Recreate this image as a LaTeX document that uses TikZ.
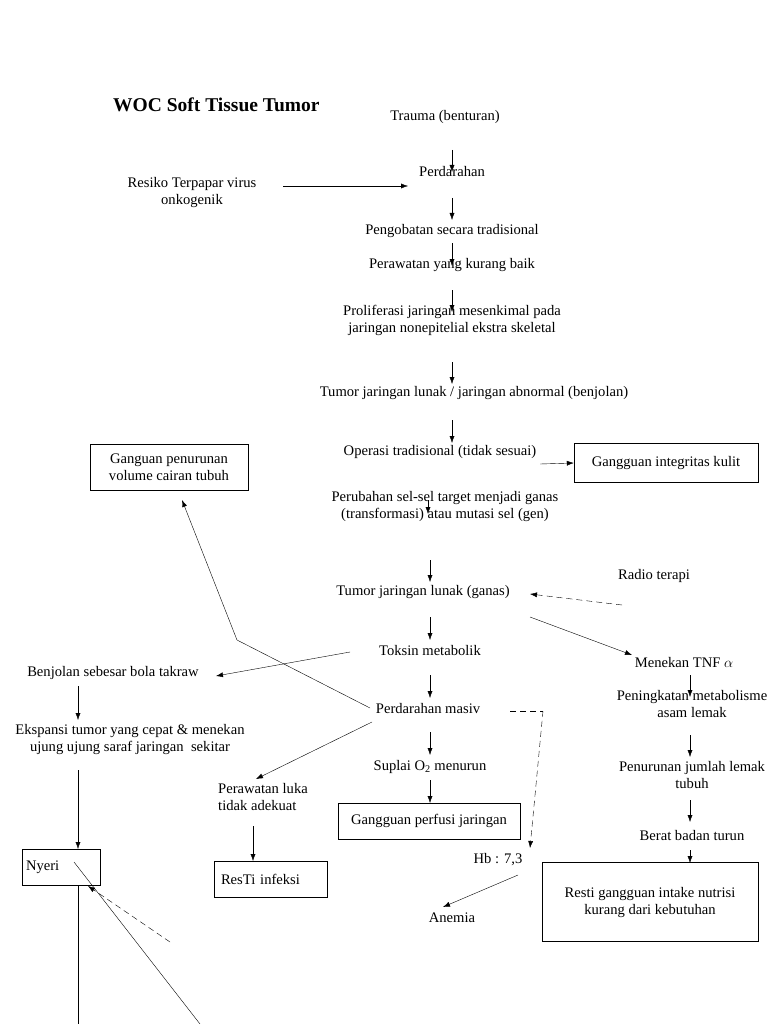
\documentclass[tikz,border=0pt]{standalone}
\usepackage{fontspec}
\setmainfont{Liberation Serif}
\usetikzlibrary{arrows.meta}
\begin{document}
\begin{tikzpicture}[x=1pt,y=-1pt,
  txt/.style={font=\fontsize{14.6}{17}\selectfont,align=center,inner sep=0pt},
  box/.style={draw,font=\fontsize{14.6}{17}\selectfont,align=center,inner sep=0pt},
  ar/.style={-{Latex[length=7pt,width=5pt]},thin},
  da/.style={-{Latex[length=7pt,width=5pt]},thin,dashed,dash pattern=on 6pt off 4pt}]
\useasboundingbox (0,0) rectangle (768,1024);
\node[txt,font=\fontsize{19.5}{22}\selectfont\bfseries,anchor=west] (title) at (113,105) {WOC Soft Tissue Tumor};
\node[txt] (trauma) at (445,117) {Trauma (benturan)};
\node[txt] (perd) at (452,172) {Perdarahan};
\node[txt] (resiko) at (192,193) {Resiko Terpapar virus\\onkogenik};
\node[txt] (pengob) at (452,231) {Pengobatan secara tradisional};
\node[txt] (peraw) at (452,265) {Perawatan yang kurang baik};
\node[txt] (prolif) at (452,320) {Proliferasi jaringan mesenkimal pada\\jaringan nonepitelial ekstra skeletal};
\node[txt] (tumor1) at (474,393) {Tumor jaringan lunak / jaringan abnormal (benjolan)};
\node[txt] (operasi) at (440,452) {Operasi tradisional (tidak sesuai)};
\node[box,minimum width=184,minimum height=39] (integ) at (666,463) {Gangguan integritas kulit};
\node[box,minimum width=158,minimum height=46] (cairan) at (169,467) {Ganguan penurunan\\volume cairan tubuh};
\node[txt] (perub) at (445,507) {Perubahan sel-sel target menjadi ganas\\(transformasi) atau mutasi sel (gen)};
\node[txt] (ganas) at (423,592) {Tumor jaringan lunak (ganas)};
\node[txt] (radio) at (654,576) {Radio terapi};
\node[txt] (toksin) at (430,650) {Toksin metabolik};
\node[txt] (tnf) at (684,662) {Menekan TNF $\alpha$};
\node[txt] (benj) at (113,673) {Benjolan sebesar bola takraw};
\node[txt] (masiv) at (428,708) {Perdarahan masiv};
\node[txt] (ekspansi) at (130,740) {Ekspansi tumor yang cepat \& menekan\\ujung ujung saraf jaringan\ \ sekitar};
\node[txt,align=left] (luka) at (263,797) {Perawatan luka\\tidak adekuat};
\node[txt] (suplai) at (430,767) {Suplai O\textsubscript{2} menurun};
\node[box,minimum width=182,minimum height=36] (perfusi) at (429,821) {Gangguan perfusi jaringan};
\node[box,minimum width=78,minimum height=36,text width=70,align=left] (nyeri) at (61,867) {Nyeri\vphantom{g}\\[10pt]};
\node[box,minimum width=113,minimum height=36,text width=100,align=left] (infeksi) at (271,879) {ResTi infeksi};
\node[txt] (hb) at (498,860) {Hb : 7,3};
\node[txt] (anemia) at (452,918) {Anemia};
\node[txt] (metab) at (692,704) {Peningkatan metabolisme\\asam lemak};
\node[txt] (lemak) at (692,775) {Penurunan jumlah lemak\\tubuh};
\node[txt] (berat) at (692,835) {Berat badan turun};
\node[box,minimum width=216,minimum height=79] (nutrisi) at (650,902) {Resti gangguan intake nutrisi\\kurang dari kebutuhan};
% main column
\draw[ar] (452,150) -- (452,172);
\draw[ar] (283,186) -- (408,186);
\draw[ar] (452,198) -- (452,220);
\draw[ar] (452,243) -- (452,266);
\draw[ar] (452,290) -- (452,312);
\draw[ar] (452,362) -- (452,384);
\draw[ar] (452,420) -- (452,443);
\draw[ar] (540,464) -- (integ.west);
\draw[ar] (428,500) -- (428,514);
\draw[ar] (430,560) -- (430,582);
\draw[da] (622,605) -- (530,594);
\draw[ar] (430,617) -- (430,640);
\draw[ar] (530,617) -- (632,655);
\draw[ar] (350,652) -- (216,676);
\draw[ar] (430,675) -- (430,698);
\draw[ar] (370,708) -- (237,640) -- (182,500);
\draw[dashed,dash pattern=on 6pt off 4pt] (510,711) -- (543,711);
\draw[da] (543,711) -- (530,848);
\draw[ar] (78,686) -- (78,720);
\draw[ar] (78,770) -- (78,849);
\draw[ar] (372,722) -- (256,779);
\draw[ar] (253,826) -- (253,861);
\draw[ar] (430,732) -- (430,755);
\draw[ar] (430,780) -- (430,803);
\draw[ar] (518,875) -- (443,907);
% right column
\draw[ar] (690,675) -- (690,697);
\draw[ar] (690,735) -- (690,757);
\draw[ar] (690,800) -- (690,822);
\draw[ar] (690,850) -- (690,863);
% bottom left
\draw (78,885) -- (78,1024);
\draw (74,862) -- (200,1024);
\draw[da] (170,942) -- (88,886);
\end{tikzpicture}
\end{document}
